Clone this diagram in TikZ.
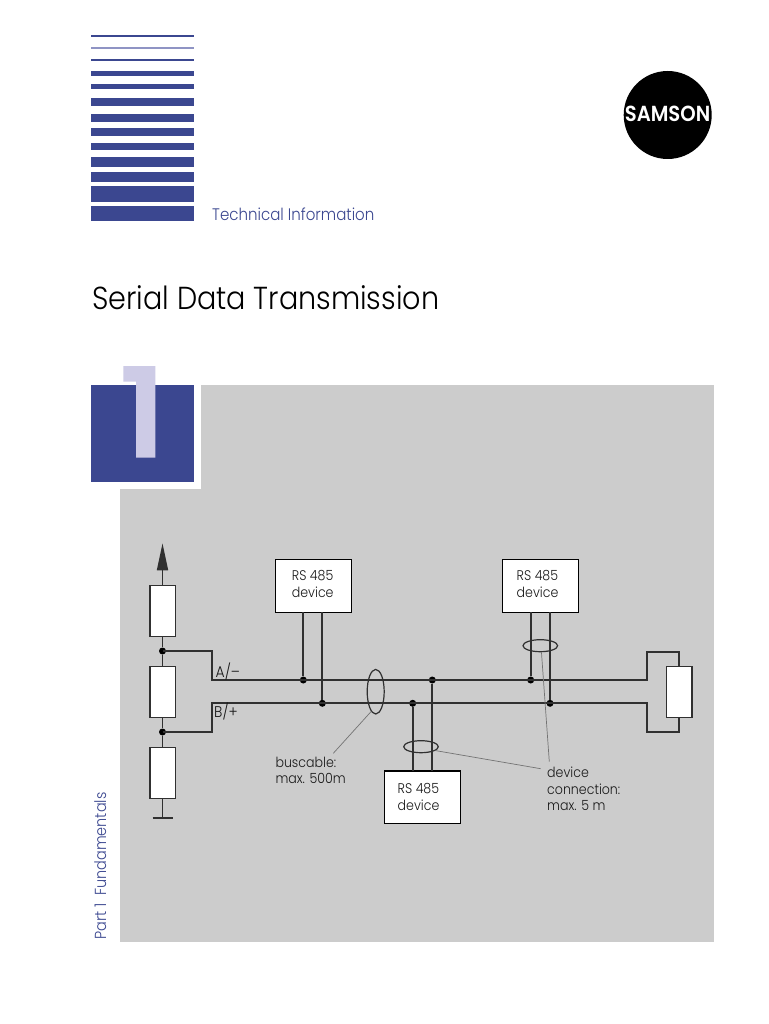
\documentclass[tikz,border=0pt]{standalone}
\usepackage{fontspec}
\setmainfont{Poppins}[UprightFont=* Light,BoldFont=* SemiBold,FakeStretch=0.9]
\usetikzlibrary{shapes.geometric,arrows.meta}
\definecolor{sblue}{HTML}{3B4790}
\definecolor{slight}{HTML}{8F94C4}
\definecolor{slav}{HTML}{CDCBE6}
\definecolor{spanel}{HTML}{CCCCCC}
\definecolor{swire}{HTML}{303030}
\tikzset{
  wire/.style={draw=swire,line width=1.7pt},
  leader/.style={draw=black!55,line width=0.7pt},
  resistor/.style={draw=swire,line width=1.5pt,fill=white,inner sep=0,minimum width=25.5pt,minimum height=50.6pt},
  device/.style={draw=black,line width=1.4pt,fill=white,inner sep=0,minimum width=76.4pt,minimum height=52.6pt},
  joint/.style={circle,fill=black,inner sep=0,minimum size=7pt},
  loop/.style={ellipse,draw=swire,line width=1.2pt,inner sep=0},
  lab/.style={anchor=west,align=left,inner sep=0,text=black!90,font=\fontsize{14}{16.7}\selectfont},
  bus/.style={anchor=west,inner sep=0,text=black!90,font=\fontsize{15.5}{17}\selectfont},
}
\begin{document}
\begin{tikzpicture}[x=1pt,y=-1pt]
\useasboundingbox (0,0) rectangle (768,1024);
\fill[white] (0,0) rectangle (768,1024);
% stripes
\foreach \a/\b in {35/37,59/61,71/76,84.5/89.5,98/105.7,114/121.7,128.3/136,142.7/150.3,157/166.7,172/181.7,186.3/201.7,206.3/220.7}
  \fill[sblue] (91,\a) rectangle (194,\b);
\fill[slight] (91,47) rectangle (194,49);
% panel
\fill[spanel] (120,385) rectangle (714,942);
\fill[white] (110,380) rectangle (201,489);
\fill[sblue] (91,385) rectangle (194,481.7);
\fill[slav] (123.3,366) -- (155.3,366) -- (155.3,457.7) -- (136,457.7) -- (136,381.7) -- (123.3,381.7) -- cycle;
% logo
\node[circle,fill=black,minimum size=88pt,inner sep=0] (logo) at (667.7,115) {};
\node[text=white,inner sep=0,font=\fontsize{21.8}{22}\selectfont\bfseries] (logotext) at (667.5,114) {SAMSON};
% titles
\node[anchor=base west,inner sep=0,text=sblue,font=\fontsize{16.7}{20}\selectfont] (ti) at (212,221) {Technical Information};
\node[anchor=base west,inner sep=0,text=black,font=\fontsize{31.8}{36}\selectfont] (title) at (92,309) {Serial Data Transmission};
\node[anchor=base west,rotate=90,inner sep=0,text=sblue,font=\fontsize{16}{18}\selectfont] (part) at (106,940) {Part 1\ \ Fundamentals};
% resistors
\node[resistor] (r1) at (162.5,611) {};
\node[resistor] (r2) at (162.5,692) {};
\node[resistor] (r3) at (162.5,773) {};
\node[resistor] (r4) at (679,692) {};
% devices
\node[device] (d1) at (313.5,586) {};
\node[device] (d2) at (540.5,586) {};
\node[device] (d3) at (422.5,797.3) {};
\node[lab] (t1) at (291.7,584) {RS 485\\device};
\node[lab] (t2) at (516.5,584) {RS 485\\device};
\node[lab] (t3) at (397.5,797) {RS 485\\device};
% junctions and corners
\coordinate (tip) at (162.5,543.3);
\coordinate (gnd) at (162.5,818.3);
\coordinate (gndl) at (152.7,818.3);
\coordinate (gndr) at (172.7,818.3);
\node[joint] (ja) at (162.5,651) {};
\node[joint] (jb) at (162.5,732) {};
\coordinate (al) at (211.7,680);
\coordinate (bl) at (211.7,703.3);
\coordinate (ar) at (647.3,680);
\coordinate (br) at (647.3,703.3);
\node[joint] (a1) at (303.3,680) {};
\node[joint] (b1) at (322.3,703.3) {};
\node[joint] (a2) at (432.3,680) {};
\node[joint] (b2) at (412.7,703.3) {};
\node[joint] (a3) at (530.7,680) {};
\node[joint] (b3) at (550,703.3) {};
% wires
\draw[wire,-{Triangle[length=27pt,width=11pt]}] (r1.north) -- (tip);
\draw[wire] (r1.south) -- (ja) -- (r2.north);
\draw[wire] (r2.south) -- (jb) -- (r3.north);
\draw[wire] (r3.south) -- (gnd);
\draw[wire] (gndl) -- (gndr);
\draw[wire] (ja.center) -| (al) -- (ar) |- (647.3,652.3) -| (r4.north);
\draw[wire] (jb.center) -| (bl) -- (br) |- (647.3,732.3) -| (r4.south);
\draw[wire] (303.3,612.3) -- (a1);
\draw[wire] (322.3,612.3) -- (b1);
\draw[wire] (530.7,612.3) -- (a3);
\draw[wire] (550,612.3) -- (b3);
\draw[wire] (432.3,771) -- (a2);
\draw[wire] (412.7,771) -- (b2);
% loops
\node[loop,minimum width=17pt,minimum height=44.6pt] (busl) at (375.7,691.7) {};
\node[loop,minimum width=34.6pt,minimum height=12pt] (topl) at (540.3,645.7) {};
\node[loop,minimum width=34.6pt,minimum height=12pt] (botl) at (421,746.7) {};
% leaders
\coordinate (lbus) at (333.3,753.3);
\coordinate (ltop) at (549.3,761.7);
\coordinate (lbot) at (540.7,768.7);
\draw[leader] (busl.-103) -- (lbus);
\draw[leader] (topl.-80) -- (ltop);
\draw[leader] (botl.-15) -- (lbot);
% labels
\node[lab] (tbus) at (275.3,770.5) {buscable:\\max. 500m};
\node[lab] (tdev) at (547,789) {device\\connection:\\max. 5 m};
\node[bus] (tA) at (215.5,671.5) {A/--};
\node[bus] (tB) at (214,711.5) {B/+};
\end{tikzpicture}
\end{document}
